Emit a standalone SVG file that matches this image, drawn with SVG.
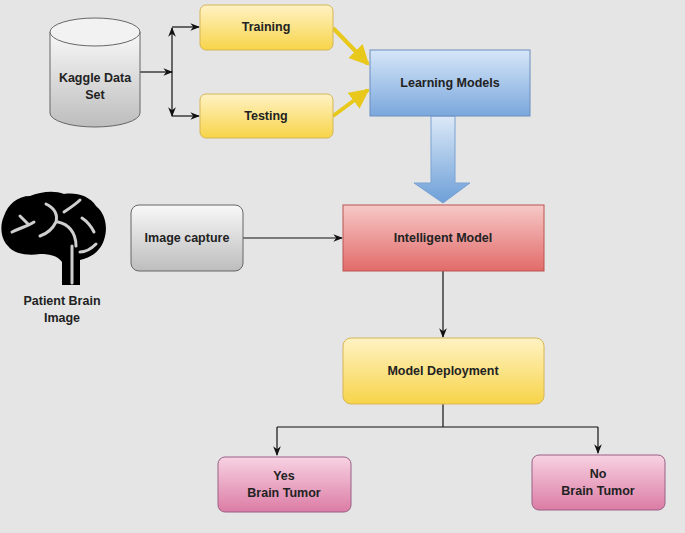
<svg xmlns="http://www.w3.org/2000/svg" width="685" height="533" viewBox="0 0 685 533">
<defs>
<linearGradient id="gy" x1="0" y1="0" x2="0" y2="1"><stop offset="0" stop-color="#fff2c4"/><stop offset="1" stop-color="#f7d449"/></linearGradient>
<linearGradient id="gb" x1="0" y1="0" x2="0" y2="1"><stop offset="0" stop-color="#d6e6f8"/><stop offset="1" stop-color="#7aa7dc"/></linearGradient>
<linearGradient id="gr" x1="0" y1="0" x2="0" y2="1"><stop offset="0" stop-color="#f6c9c7"/><stop offset="1" stop-color="#e26b6a"/></linearGradient>
<linearGradient id="gg" x1="0" y1="0" x2="0" y2="1"><stop offset="0" stop-color="#f8f8f8"/><stop offset="1" stop-color="#bdbdbd"/></linearGradient>
<linearGradient id="gp" x1="0" y1="0" x2="0" y2="1"><stop offset="0" stop-color="#f7d2e2"/><stop offset="1" stop-color="#dc7ca5"/></linearGradient>
<linearGradient id="gba" x1="0" y1="0" x2="0" y2="1"><stop offset="0" stop-color="#dce9f7"/><stop offset="1" stop-color="#6d9fd8"/></linearGradient>
<marker id="ah" viewBox="0 0 10 10" refX="9" refY="5" markerWidth="8" markerHeight="8" orient="auto-start-reverse"><path d="M0,1 L10,5 L0,9 L3,5 Z" fill="#111"/></marker>
<marker id="ya" viewBox="0 0 10 10" refX="9" refY="5" markerWidth="5" markerHeight="5" orient="auto"><path d="M0,0 L10,5 L0,10 Z" fill="#e8c81a"/></marker>
</defs>
<style>
text{font-family:"Liberation Sans",Arial,sans-serif;font-weight:bold;font-size:12.5px;fill:#222;text-anchor:middle}
.c{stroke:#111;stroke-width:1.2;fill:none}
</style>
<rect width="685" height="533" fill="#e5e5e5"/>
<g id="connectors">
<path class="c" d="M140,72 H172" marker-end="url(#ah)"/>
<path class="c" d="M172,28 V116" marker-start="url(#ah)" marker-end="url(#ah)"/>
<path class="c" d="M172,27 H199" marker-end="url(#ah)"/>
<path class="c" d="M172,116 H199" marker-end="url(#ah)"/>
<path d="M333,28 L368,64" stroke="#e8c81a" stroke-width="4" marker-end="url(#ya)"/>
<path d="M333,116 L368,90" stroke="#e8c81a" stroke-width="4" marker-end="url(#ya)"/>
<path d="M431,116 H455 V183 H470 L443,203 L414,183 H431 Z" fill="url(#gba)" stroke="#7aa3d3"/>
<path class="c" d="M243,238 H342" marker-end="url(#ah)"/>
<path class="c" d="M443,271 V337" marker-end="url(#ah)"/>
<path class="c" d="M443,404 V427"/>
<path class="c" d="M277,427 H598"/>
<path class="c" d="M277,427 V455" marker-end="url(#ah)"/>
<path class="c" d="M598,427 V453" marker-end="url(#ah)"/>
</g>
<g id="kaggle">
<path d="M50,32 V113 A45,14 0 0 0 140,113 V32" fill="url(#gg)" stroke="#666"/>
<ellipse cx="95" cy="32" rx="45" ry="14" fill="#f2f2f2" stroke="#666"/>
<text x="95" y="82">Kaggle Data</text><text x="95" y="99">Set</text>
</g>
<g id="training"><rect x="200" y="5" width="133" height="45" rx="6" fill="url(#gy)" stroke="#d6b656"/><text x="266" y="31">Training</text></g>
<g id="testing"><rect x="200" y="94" width="133" height="44" rx="6" fill="url(#gy)" stroke="#d6b656"/><text x="266" y="120">Testing</text></g>
<g id="learning"><rect x="370" y="50" width="160" height="66" fill="url(#gb)" stroke="#6c8ebf"/><text x="450" y="87">Learning Models</text></g>
<g id="brain">
<path d="M62,285 L62,262 C58,256 50,254 40,254 C28,256 14,254 8,246 C0,238 0,224 4,216 C8,204 18,196 30,196 C40,192 54,190 64,194 C76,192 90,196 96,206 C106,214 108,228 104,240 C100,252 90,258 80,260 L80,285 Z" fill="#000"/>
<g stroke="#cfcfcf" stroke-width="3" fill="none" stroke-linecap="round">
<path d="M12,232 C20,228 28,226 34,222 M20,216 L28,224"/>
<path d="M46,204 C54,208 58,214 56,222 C52,230 46,234 40,236"/>
<path d="M58,222 C68,224 76,232 76,246 M72,246 V283"/>
<path d="M64,212 C70,208 76,204 80,200"/>
<path d="M82,218 C88,222 92,228 94,232"/>
<path d="M96,244 C92,248 86,252 80,252"/>
</g>
<text x="62" y="305">Patient Brain</text><text x="62" y="322">Image</text>
</g>
<g id="capture"><rect x="131" y="205" width="112" height="66" rx="8" fill="url(#gg)" stroke="#666"/><text x="187" y="242">Image capture</text></g>
<g id="intelligent"><rect x="343" y="205" width="201" height="66" fill="url(#gr)" stroke="#b85450"/><text x="443" y="242">Intelligent Model</text></g>
<g id="deploy"><rect x="343" y="338" width="201" height="66" rx="8" fill="url(#gy)" stroke="#d6b656"/><text x="443" y="375">Model Deployment</text></g>
<g id="yes"><rect x="218" y="457" width="133" height="55" rx="7" fill="url(#gp)" stroke="#996185"/><text x="284" y="480">Yes</text><text x="284" y="497">Brain Tumor</text></g>
<g id="no"><rect x="532" y="455" width="133" height="55" rx="7" fill="url(#gp)" stroke="#996185"/><text x="598" y="478">No</text><text x="598" y="495">Brain Tumor</text></g>
</svg>
